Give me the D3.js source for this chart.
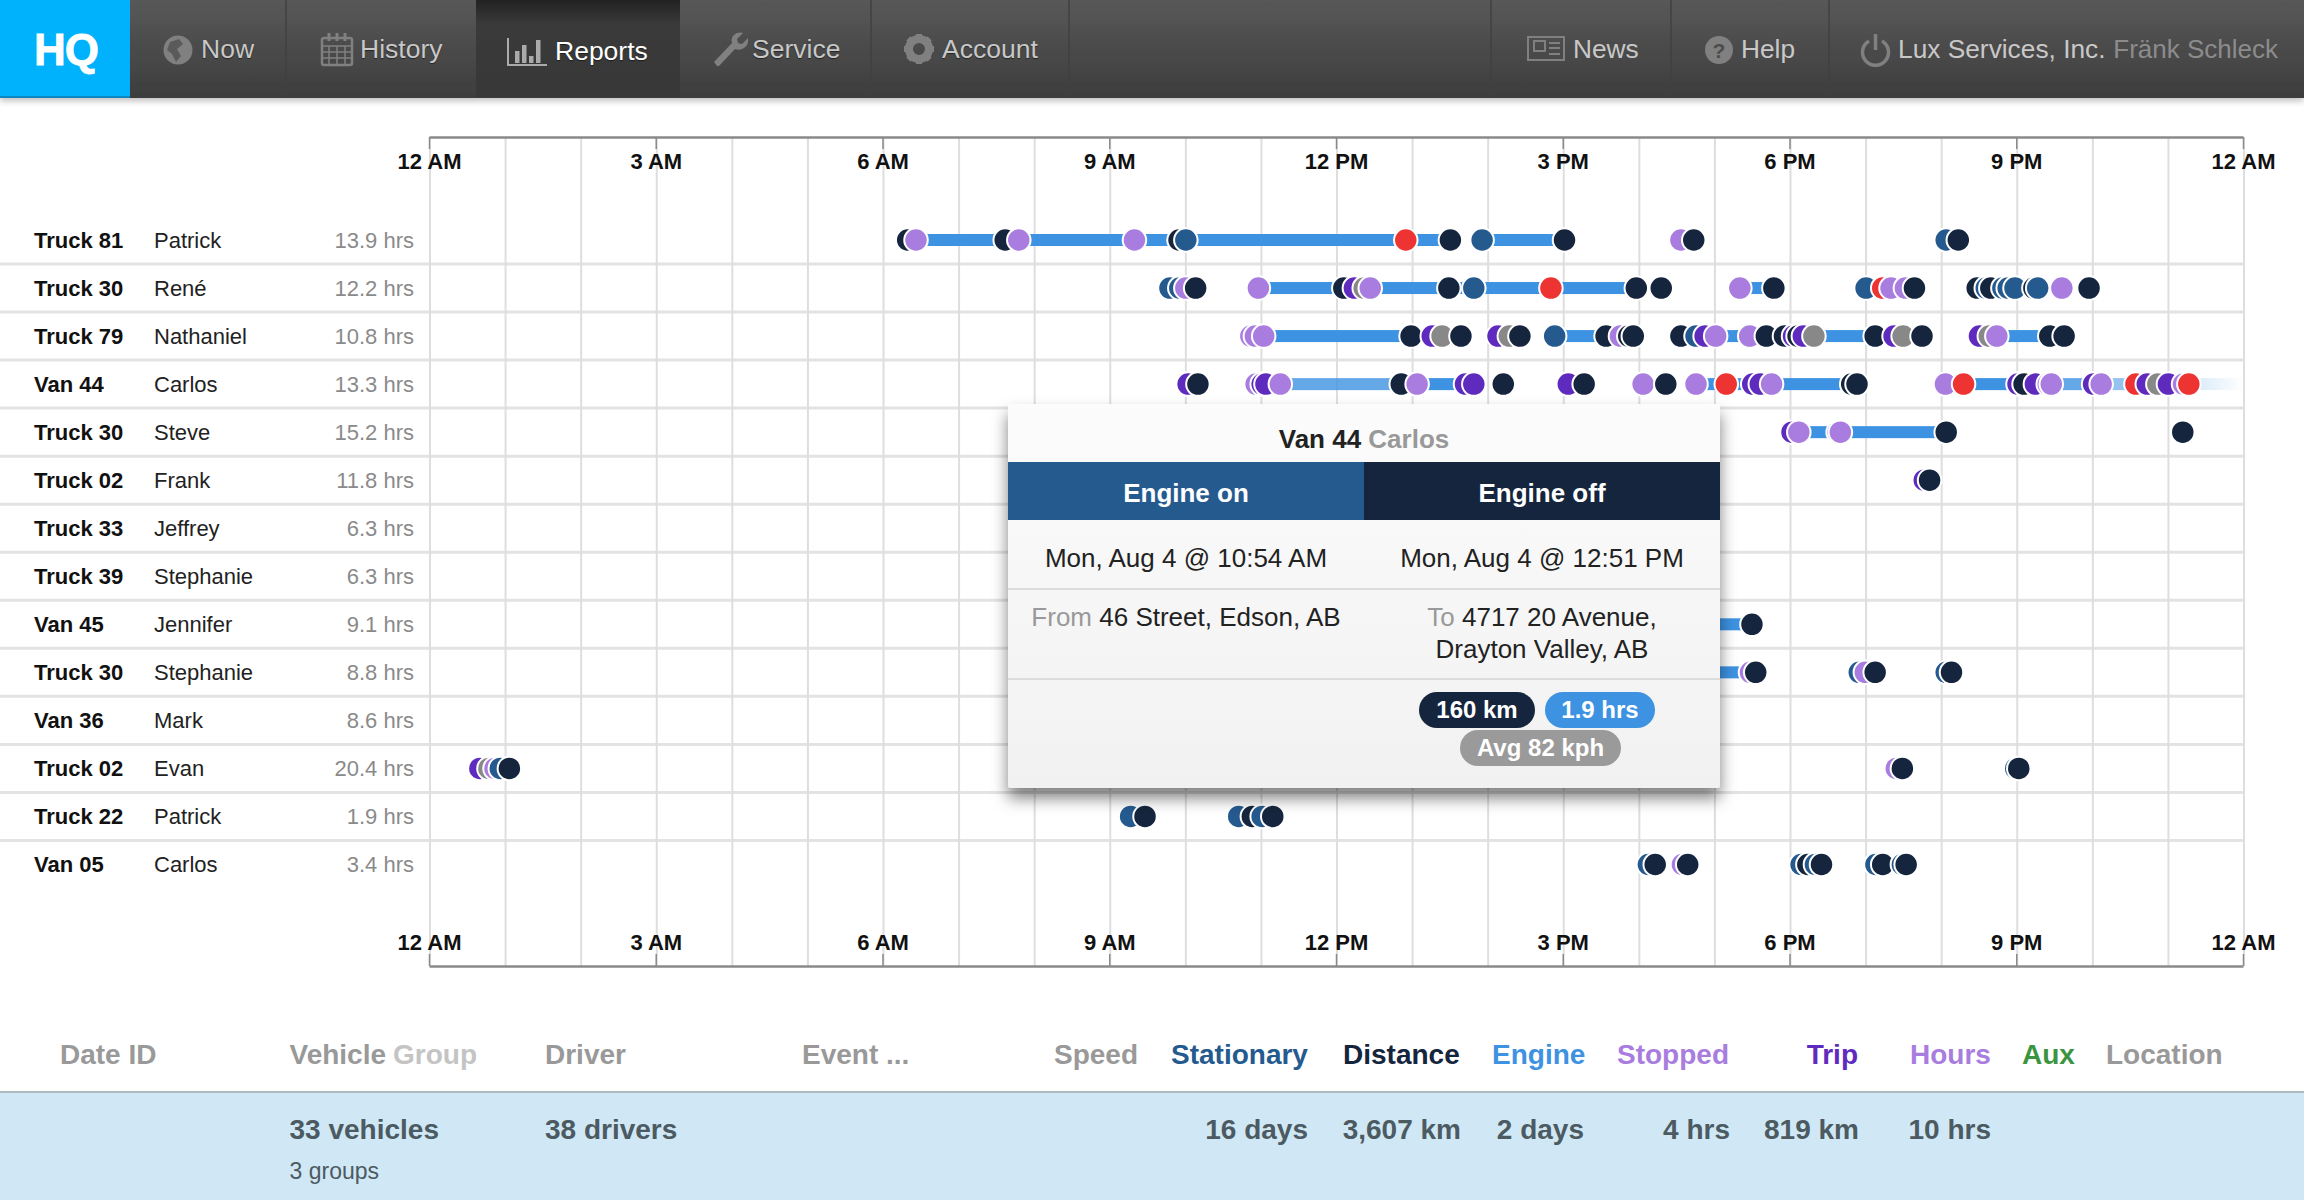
<!DOCTYPE html>
<html>
<head>
<meta charset="utf-8">
<script src="https://cdnjs.cloudflare.com/ajax/libs/d3/7.8.5/d3.min.js"></script>
<style>
  html, body { margin: 0; padding: 0; background: #fff; overflow: hidden; }
  text { font-family: "Liberation Sans", Arial, sans-serif; }
</style>
</head>
<body>
<div id="chart"></div>
<script>
// Data
const vehicles = ["Truck 81", "Truck 30", "Truck 79", "Van 44", "Truck 30", "Truck 02", "Truck 33",
  "Truck 39", "Van 45", "Truck 30", "Van 36", "Truck 02", "Truck 22", "Van 05"];
const drivers = ["Patrick", "René", "Nathaniel", "Carlos", "Steve", "Frank", "Jeffrey",
  "Stephanie", "Jennifer", "Stephanie", "Mark", "Evan", "Patrick", "Carlos"];
const rowHours = ["13.9 hrs", "12.2 hrs", "10.8 hrs", "13.3 hrs", "15.2 hrs", "11.8 hrs", "6.3 hrs",
  "6.3 hrs", "9.1 hrs", "8.8 hrs", "8.6 hrs", "20.4 hrs", "1.9 hrs", "3.4 hrs"];

// Event times in hours of the day, one list per row, drawn in this order
const eventHours = [
  [6.32, 6.43, 7.61, 7.79, 9.32, 9.91, 10.00, 12.91, 13.50, 13.92, 15.01, 16.55, 16.72, 20.06, 20.22],
  [9.79, 9.92, 10.00, 10.13, 10.96, 12.09, 12.23, 12.36, 12.44, 13.48, 13.81, 14.83, 15.96, 16.29, 17.33, 17.78,
    19.00, 19.22, 19.33, 19.52, 19.64, 20.47, 20.59, 20.65, 20.81, 20.88, 20.97, 21.22, 21.27, 21.59, 21.95],
  [10.86, 10.92, 11.03, 12.98, 13.26, 13.39, 13.64, 14.13, 14.28, 14.42, 14.88, 15.56, 15.75, 15.86, 15.92,
    16.55, 16.75, 16.87, 17.01, 17.46, 17.68, 17.92, 18.04, 18.10, 18.17, 18.31, 19.12, 19.37, 19.49, 19.74,
    20.50, 20.63, 20.73, 21.43, 21.62],
  [10.03, 10.16, 10.93, 11.01, 11.06, 11.25, 12.85, 13.06, 13.70, 13.81, 14.20, 15.06, 15.27, 16.05, 16.35,
    16.75, 17.15, 17.50, 17.60, 17.75, 18.81, 18.88, 20.05, 20.29, 21.01, 21.09, 21.24, 21.41, 21.45, 22.01,
    22.11, 22.57, 22.72, 22.86, 23.00, 23.20, 23.27],
  [18.02, 18.11, 18.63, 18.66, 20.06, 23.19],
  [19.77, 19.84],
  [],
  [],
  [17.49],
  [17.47, 17.54, 18.91, 18.99, 19.12, 20.06, 20.13],
  [],
  [0.66, 0.78, 0.86, 0.93, 1.05, 19.40, 19.48, 20.98, 21.02],
  [9.27, 9.46, 10.70, 10.88, 11.01, 11.15],
  [16.12, 16.21, 16.57, 16.64, 18.14, 18.23, 18.33, 18.41, 19.13, 19.22, 19.48, 19.53]
];
// One letter per event: n engine off, b engine on, p stopped, d trip, r alert, g aux
const eventKinds = [
  "npnppnbrnbnpnbn",
  "bbpnpndgpnbrnnpnbrppnnbnbbbnbpn",
  "pppndgndgnbnpnnnbdppnndndgndgndgpnn",
  "dnpddpnpddndnpnprddpnnprdndppdprdgdpr",
  "dpppnn",
  "dn",
  "",
  "",
  "n",
  "pnbpnbn",
  "",
  "dgpbnpnbn",
  "bnbnbn",
  "bnpnbnbnbnbn"
];
// Engine running spans as [row, start hour, end hour]
const tripSpans = [
  [0, 6.43, 7.61], [0, 7.79, 13.50], [0, 13.92, 15.01],
  [1, 10.96, 12.09], [1, 12.44, 15.96], [1, 17.33, 17.78],
  [2, 11.03, 12.98], [2, 14.88, 15.56], [2, 17.01, 19.12], [2, 20.73, 21.43],
  [3, 13.06, 13.70], [3, 16.75, 17.50], [3, 17.75, 18.81], [3, 20.29, 21.01],
  [4, 18.11, 18.63], [4, 18.66, 20.06],
  [8, 16.50, 17.49], [9, 16.50, 17.54]
];
const fadedSpans = [[3, 11.25, 12.85], [3, 21.45, 22.01]];
const palerSpans = [[3, 22.11, 22.57]];
const openSpans = [[3, 23.27, 24]];

const axisTicks = [0, 3, 6, 9, 12, 15, 18, 21, 24];
const axisLabels = ["12 AM", "3 AM", "6 AM", "9 AM", "12 PM", "3 PM", "6 PM", "9 PM", "12 AM"];
const gridHours = d3.range(0, 25);

const navLeft = ["Now", "History", "Reports", "Service", "Account"];
const navLeftX = [201, 360, 555, 752, 942];
const navRight = ["News", "Help", "Lux Services, Inc."];
const navRightX = [1573, 1741, 1898];

const footerTitles = [
  ["Date ID", 60, "start", "#999"], ["Vehicle", 289.5, "start", "#999"], ["Driver", 545, "start", "#999"],
  ["Event ...", 802, "start", "#999"], ["Speed", 1138, "end", "#999"], ["Stationary", 1171, "start", "#255a8f"],
  ["Distance", 1343, "start", "#14253d"], ["Engine", 1492, "start", "#3d92e2"], ["Stopped", 1617, "start", "#a97de0"],
  ["Trip", 1858, "end", "#5f2bbf"], ["Hours", 1910, "start", "#a97de0"], ["Aux", 2022, "start", "#3a9440"],
  ["Location", 2106, "start", "#999"]
];
const footerValues = [
  ["33 vehicles", 289.5, "start"], ["38 drivers", 545, "start"], ["16 days", 1308, "end"], ["3,607 km", 1461, "end"],
  ["2 days", 1584, "end"], ["4 hrs", 1730, "end"], ["819 km", 1859, "end"], ["10 hrs", 1991, "end"]
];

const colors = { n: "#14253d", b: "#255a8f", p: "#a97de0", d: "#5f2bbf", r: "#ee3433", g: "#888888" };
const tripColor = "#3d92e2";

// Set up dimensions
const width = 2304;
const height = 1200;
const plot = { left: 430, right: 2244, top: 137, bottom: 966 };

const svg = d3.select("#chart").append("svg")
  .attr("width", width)
  .attr("height", height)
  .style("display", "block");

const defs = svg.append("defs");

function gradient(id, stops) {
  const g = defs.append("linearGradient").attr("id", id).attr("x1", 0).attr("y1", 0).attr("x2", 0).attr("y2", 1);
  stops.forEach(s => g.append("stop").attr("offset", s[0]).attr("stop-color", s[1]));
}
gradient("navBg", [[0, "#585858"], [1, "#3d3d3d"]]);
gradient("navActive", [[0, "#222222"], [0.25, "#3a3a3a"], [1, "#383838"]]);
gradient("popBg", [[0, "#fcfcfc"], [1, "#f1f1f1"]]);

const fade = defs.append("linearGradient").attr("id", "tripFade");
fade.append("stop").attr("offset", 0).attr("stop-color", tripColor).attr("stop-opacity", 0.22);
fade.append("stop").attr("offset", 1).attr("stop-color", tripColor).attr("stop-opacity", 0);

const popShadow = defs.append("filter").attr("id", "popShadow")
  .attr("x", "-10%").attr("y", "-10%").attr("width", "120%").attr("height", "125%");
popShadow.append("feDropShadow").attr("dx", 0).attr("dy", 10).attr("stdDeviation", 8)
  .attr("flood-color", "#000").attr("flood-opacity", 0.5);

const navShadow = defs.append("filter").attr("id", "navShadow")
  .attr("x", "0").attr("y", "-10%").attr("width", "100%").attr("height", "130%");
navShadow.append("feDropShadow").attr("dx", 0).attr("dy", 3).attr("stdDeviation", 3)
  .attr("flood-color", "#000").attr("flood-opacity", 0.25);

// Scales
const x = d3.scaleLinear().domain([0, 24]).range([plot.left, plot.right]);
const y = d3.scalePoint().domain(d3.range(vehicles.length)).range([240, 864.5]);

// Grid
const grid = svg.append("g");
grid.selectAll("line.h").data(d3.range(vehicles.length - 1)).join("line")
  .attr("class", "h")
  .attr("x1", 0).attr("x2", plot.right)
  .attr("y1", d => y(d) + 24).attr("y2", d => y(d) + 24)
  .attr("stroke", "#e3e3e3").attr("stroke-width", 3);
grid.selectAll("line.v").data(gridHours).join("line")
  .attr("class", "v")
  .attr("x1", d => x(d)).attr("x2", d => x(d))
  .attr("y1", plot.top).attr("y2", plot.bottom)
  .attr("stroke", "#dedede").attr("stroke-width", 2);

// Axes
function styleAxis(g) {
  g.select(".domain").attr("stroke", "#8a8a8a").attr("stroke-width", 2.5);
  g.selectAll(".tick line").attr("stroke", "#8a8a8a").attr("stroke-width", 1.5);
  g.selectAll(".tick text")
    .attr("fill", "#111").attr("font-size", 22).attr("font-weight", "bold")
    .attr("font-family", '"Liberation Sans", Arial, sans-serif');
}
const labelOf = d => axisLabels[axisTicks.indexOf(d)];
svg.append("g").attr("transform", `translate(-1,${plot.top})`)
  .call(d3.axisBottom(x).tickValues(axisTicks).tickFormat(labelOf).tickSize(12).tickSizeOuter(0).tickPadding(4))
  .call(styleAxis);
svg.append("g").attr("transform", `translate(-1,${plot.bottom})`)
  .call(d3.axisTop(x).tickValues(axisTicks).tickFormat(labelOf).tickSize(12).tickSizeOuter(0).tickPadding(4))
  .call(styleAxis);

// Row labels
const labels = svg.append("g");
labels.selectAll("text.veh").data(vehicles).join("text")
  .attr("class", "veh").attr("x", 34).attr("y", (d, i) => y(i)).attr("dy", "0.35em")
  .attr("font-size", 22).attr("font-weight", "bold").attr("fill", "#111").text(d => d);
labels.selectAll("text.drv").data(drivers).join("text")
  .attr("class", "drv").attr("x", 154).attr("y", (d, i) => y(i)).attr("dy", "0.35em")
  .attr("font-size", 22).attr("fill", "#222").text(d => d);
labels.selectAll("text.hrs").data(rowHours).join("text")
  .attr("class", "hrs").attr("x", 414).attr("y", (d, i) => y(i)).attr("dy", "0.35em")
  .attr("text-anchor", "end").attr("font-size", 22).attr("fill", "#8a8a8a").text(d => d);

// Trips
function drawSpans(spans, fill, opacity) {
  svg.append("g").selectAll("rect").data(spans).join("rect")
    .attr("x", d => x(d[1])).attr("width", d => x(d[2]) - x(d[1]))
    .attr("y", d => y(d[0]) - 6).attr("height", 12)
    .attr("fill", fill).attr("opacity", opacity);
}
drawSpans(tripSpans, tripColor, 1);
drawSpans(fadedSpans, tripColor, 0.8);
drawSpans(palerSpans, tripColor, 0.55);
drawSpans(openSpans, "url(#tripFade)", 1);

// Events
eventHours.forEach((hours, row) => {
  svg.append("g").selectAll("circle").data(hours).join("circle")
    .attr("cx", d => x(d))
    .attr("cy", y(row))
    .attr("r", 11.75)
    .attr("fill", (d, i) => colors[eventKinds[row][i]])
    .attr("stroke", "#fff")
    .attr("stroke-width", 2);
});

// Popup
const pop = svg.append("g");
const popX = 1008, popW = 712, popMid = 1364;
pop.append("rect").attr("x", popX).attr("y", 404).attr("width", popW).attr("height", 384)
  .attr("rx", 3).attr("fill", "url(#popBg)").attr("filter", "url(#popShadow)");
pop.append("rect").attr("x", popX).attr("y", 462).attr("width", popMid - popX).attr("height", 58).attr("fill", colors.b);
pop.append("rect").attr("x", popMid).attr("y", 462).attr("width", popX + popW - popMid).attr("height", 58).attr("fill", colors.n);
pop.append("line").attr("x1", popX).attr("x2", popX + popW).attr("y1", 589).attr("y2", 589).attr("stroke", "#dcdcdc").attr("stroke-width", 2);
pop.append("line").attr("x1", popX).attr("x2", popX + popW).attr("y1", 679).attr("y2", 679).attr("stroke", "#dcdcdc").attr("stroke-width", 2);

function popText(cx, cy, size, weight, fill, parts) {
  const t = pop.append("text").attr("x", cx).attr("y", cy).attr("dy", "0.35em")
    .attr("text-anchor", "middle").attr("font-size", size).attr("font-weight", weight);
  parts.forEach(p => t.append("tspan").attr("fill", p[1] || fill).text(p[0]));
  return t;
}
popText(1364, 439, 26, "bold", "#222", [["Van 44 "], ["Carlos", "#999"]]);
popText(1186, 493, 26, "bold", "#fff", [["Engine on"]]);
popText(1542, 493, 26, "bold", "#fff", [["Engine off"]]);
popText(1186, 558, 26, "normal", "#222", [["Mon, Aug 4 @ 10:54 AM"]]);
popText(1542, 558, 26, "normal", "#222", [["Mon, Aug 4 @ 12:51 PM"]]);
popText(1186, 617, 26, "normal", "#222", [["From ", "#999"], ["46 Street, Edson, AB"]]);
popText(1542, 617, 26, "normal", "#222", [["To ", "#999"], ["4717 20 Avenue,"]]);
popText(1542, 649, 26, "normal", "#222", [["Drayton Valley, AB"]]);

function pill(x0, x1, y0, fill, label) {
  pop.append("rect").attr("x", x0).attr("y", y0).attr("width", x1 - x0).attr("height", 36).attr("rx", 18).attr("fill", fill);
  popText((x0 + x1) / 2, y0 + 18, 24, "bold", "#fff", [[label]]);
}
pill(1419, 1535, 692, colors.n, "160 km");
pill(1545, 1655, 692, tripColor, "1.9 hrs");
pill(1460, 1621, 730, "#9a9a9a", "Avg 82 kph");

// Nav bar
const nav = svg.append("g");
nav.append("rect").attr("width", width).attr("height", 98).attr("fill", "url(#navBg)").attr("filter", "url(#navShadow)");
nav.append("rect").attr("width", 130).attr("height", 98).attr("fill", "#00b1fb");
nav.append("rect").attr("y", 96).attr("width", 130).attr("height", 2).attr("fill", "#0a86c0");
nav.append("rect").attr("x", 476).attr("width", 204).attr("height", 97).attr("fill", "url(#navActive)");
[286, 871, 1069, 1491, 1671, 1829].forEach(d => {
  nav.append("line").attr("x1", d).attr("x2", d).attr("y1", 0).attr("y2", 97).attr("stroke", "#404040").attr("stroke-width", 1.5);
});
nav.append("text").attr("x", 66).attr("y", 50).attr("dy", "0.35em").attr("text-anchor", "middle")
  .attr("font-size", 44).attr("font-weight", "bold").attr("letter-spacing", -1).attr("fill", "#fff")
  .attr("stroke", "#fff").attr("stroke-width", 0.8).text("HQ");
nav.selectAll("text.left").data(navLeft).join("text")
  .attr("class", "left").attr("x", (d, i) => navLeftX[i]).attr("y", d => d === "Reports" ? 51 : 49).attr("dy", "0.35em")
  .attr("font-size", 26.5).attr("fill", d => d === "Reports" ? "#fff" : "#c8c8c8")
  .style("text-shadow", "0 1px 1px rgba(0,0,0,0.5)").text(d => d);
nav.selectAll("text.right").data(navRight).join("text")
  .attr("class", "right").attr("x", (d, i) => navRightX[i]).attr("y", 49).attr("dy", "0.35em")
  .attr("font-size", 26.3).attr("fill", "#c8c8c8").text(d => d);
nav.append("text").attr("x", 2278).attr("y", 49).attr("dy", "0.35em").attr("text-anchor", "end")
  .attr("font-size", 26).attr("fill", "#8c8c8c").text("Fränk Schleck");

// Nav icons, plain shapes
const icon = "#808080";
nav.append("circle").attr("cx", 178).attr("cy", 50).attr("r", 14.5).attr("fill", icon);
nav.append("path").attr("d", "M170 42 l9 -3 l4 5 l-6 5 l4 7 l-5 6 l-4 -8 l-5 -4z").attr("fill", "#5a5a5a");
nav.append("rect").attr("x", 322).attr("y", 38).attr("width", 30).attr("height", 27).attr("rx", 2).attr("fill", "none").attr("stroke", icon).attr("stroke-width", 2.5);
[329, 337, 345].forEach(d => {
  nav.append("line").attr("x1", d).attr("x2", d).attr("y1", 46).attr("y2", 64).attr("stroke", icon).attr("stroke-width", 1.5);
  nav.append("line").attr("x1", d).attr("x2", d).attr("y1", 33).attr("y2", 41).attr("stroke", icon).attr("stroke-width", 3);
});
[46, 52, 58].forEach(d => nav.append("line").attr("x1", 322).attr("x2", 352).attr("y1", d).attr("y2", d).attr("stroke", icon).attr("stroke-width", 1.5));
nav.append("path").attr("d", "M508 38 v27 h39").attr("fill", "none").attr("stroke", "#aaa").attr("stroke-width", 2);
[[515, 51], [522, 45], [529, 56], [536, 40]].forEach(d => {
  nav.append("rect").attr("x", d[0]).attr("y", d[1]).attr("width", 4.5).attr("height", 63 - d[1]).attr("fill", "#aaa");
});
nav.append("path").attr("d", "M717 66 l-3 -4 l18 -19 q-2 -7 5 -10 q4 -1 6 0 l-6 6 l1 4 l4 1 l6 -6 q1 7 -4 10 q-4 3 -9 1 l-16 17z").attr("fill", icon);
nav.append("circle").attr("cx", 919).attr("cy", 49).attr("r", 10).attr("fill", "none").attr("stroke", icon).attr("stroke-width", 8);
d3.range(8).forEach(i => {
  nav.append("rect").attr("x", 916).attr("y", 34).attr("width", 6).attr("height", 6).attr("fill", icon)
    .attr("transform", `rotate(${i * 45} 919 49)`);
});
nav.append("rect").attr("x", 1528).attr("y", 37).attr("width", 36).attr("height", 23).attr("fill", "none").attr("stroke", icon).attr("stroke-width", 2);
nav.append("rect").attr("x", 1534).attr("y", 41).attr("width", 11).attr("height", 10).attr("fill", "none").attr("stroke", icon).attr("stroke-width", 2);
[43, 48, 54].forEach(d => nav.append("line").attr("x1", 1549).attr("x2", 1560).attr("y1", d).attr("y2", d).attr("stroke", icon).attr("stroke-width", 2));
nav.append("circle").attr("cx", 1719).attr("cy", 50).attr("r", 14).attr("fill", icon);
nav.append("text").attr("x", 1719).attr("y", 50).attr("dy", "0.36em").attr("text-anchor", "middle")
  .attr("font-size", 21).attr("font-weight", "bold").attr("fill", "#4c4c4c").text("?");
nav.append("path").attr("d", "M1869 41 a13 13 0 1 0 13 0").attr("fill", "none").attr("stroke", icon).attr("stroke-width", 3.5);
nav.append("line").attr("x1", 1875.5).attr("x2", 1875.5).attr("y1", 34).attr("y2", 50).attr("stroke", icon).attr("stroke-width", 3.5);

// Footer table
const footer = svg.append("g");
footer.append("rect").attr("y", 1092).attr("width", width).attr("height", 108).attr("fill", "#d0e8f5");
footer.append("line").attr("x1", 0).attr("x2", width).attr("y1", 1092).attr("y2", 1092).attr("stroke", "#aebcc0").attr("stroke-width", 2);
footer.selectAll("text.title").data(footerTitles).join("text")
  .attr("class", "title").attr("x", d => d[1]).attr("y", 1054).attr("dy", "0.35em")
  .attr("text-anchor", d => d[2]).attr("font-size", 28).attr("font-weight", "bold")
  .attr("fill", d => d[3]).text(d => d[0]);
footer.append("text").attr("x", 393).attr("y", 1054).attr("dy", "0.35em")
  .attr("font-size", 28).attr("font-weight", "bold").attr("fill", "#c4c4c4").text("Group");
footer.selectAll("text.val").data(footerValues).join("text")
  .attr("class", "val").attr("x", d => d[1]).attr("y", 1129).attr("dy", "0.35em")
  .attr("text-anchor", d => d[2]).attr("font-size", 28).attr("font-weight", "bold")
  .attr("fill", "#4c5a62").text(d => d[0]);
footer.append("text").attr("x", 289.5).attr("y", 1171).attr("dy", "0.35em")
  .attr("font-size", 23).attr("fill", "#4c5a62").text("3 groups");
</script>
</body>
</html>
